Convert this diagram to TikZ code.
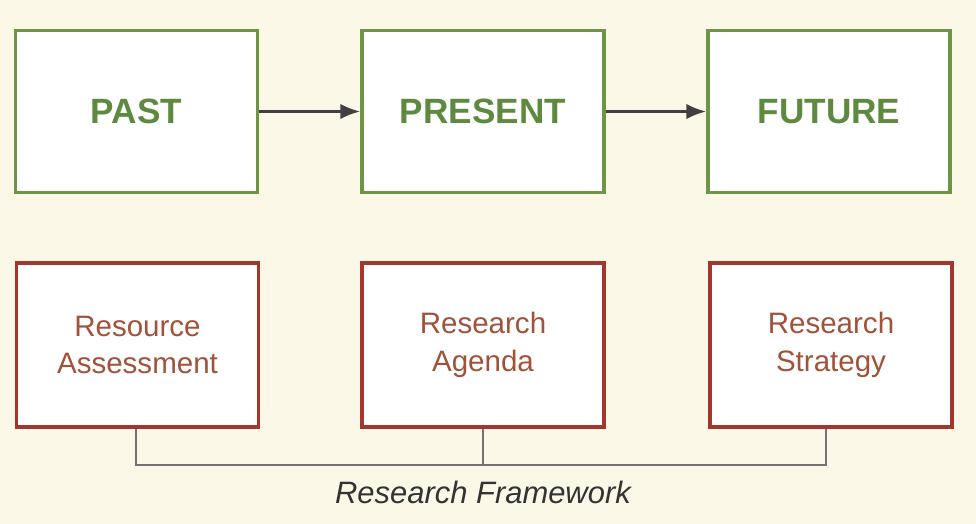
\documentclass[tikz,border=0pt]{standalone}
\usepackage{fontspec}
\setmainfont{Liberation Sans}
\usetikzlibrary{arrows.meta}
\definecolor{bg}{HTML}{FCF8E8}
\definecolor{gb}{HTML}{6E9445}
\definecolor{gt}{HTML}{5E8A40}
\definecolor{rb}{HTML}{A3362D}
\definecolor{rt}{HTML}{A0523A}
\begin{document}
\begin{tikzpicture}[x=0.025cm,y=-0.025cm,
  topbox/.style={draw=gb,line width=2.6pt,fill=white,minimum width=6.05cm,minimum height=4.05cm,text=gt,font=\bfseries\fontsize{25}{30}\selectfont},
  botbox/.style={draw=rb,line width=2.4pt,fill=white,minimum width=6.05cm,minimum height=4.1cm,text=rt,align=center,font=\fontsize{21}{27}\selectfont},
  arr/.style={draw=black!75,line width=2pt,-{Latex[length=14pt,width=11pt]}},
  brk/.style={draw=black!55,line width=2pt}]
\fill[bg] (0,0) rectangle (976,524);
\node[topbox] (past) at (136.5,111.5) {PAST};
\node[topbox] (pres) at (483,111.5) {PRESENT};
\node[topbox] (fut) at (829,111.5) {FUTURE};
\draw[arr] (past) -- (pres);
\draw[arr] (pres) -- (fut);
\node[botbox] (ra) at (137.5,345) {Resource\\Assessment};
\node[botbox] (rag) at (483,345) {Research\\Agenda};
\node[botbox] (rs) at (831,345) {Research\\Strategy};
\coordinate (c1) at (136,465);
\coordinate (c2) at (483,465);
\coordinate (c3) at (826,465);
\draw[brk] (ra.south -| c1) -- (c1) -- (c3) -- (rs.south -| c3);
\draw[brk] (rag.south) -- (c2);
\node[font=\itshape\fontsize{22}{26}\selectfont,text=black!80] (fw) at (483,492) {Research Framework};
\end{tikzpicture}
\end{document}
